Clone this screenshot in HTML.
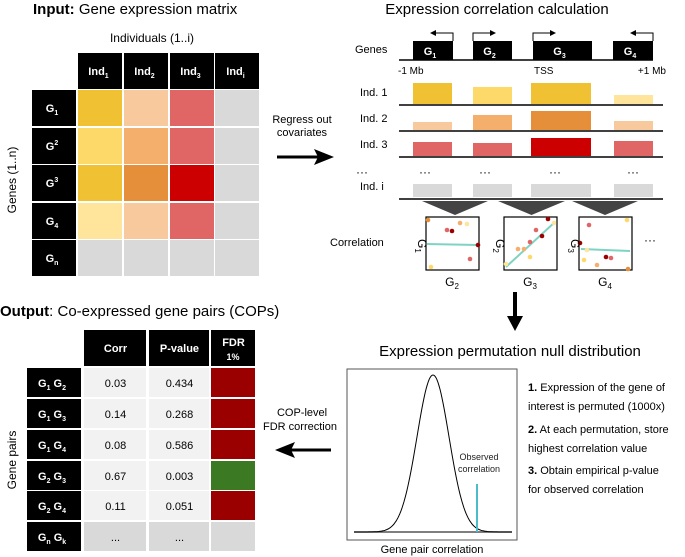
<!DOCTYPE html>
<html><head><meta charset="utf-8">
<style>
html,body{margin:0;padding:0;background:#fff;}
svg{display:block;font-family:"Liberation Sans",sans-serif;}
</style></head>
<body>
<svg width="685" height="557" viewBox="0 0 685 557" xmlns="http://www.w3.org/2000/svg">
<defs>
<marker id="ah" markerWidth="6" markerHeight="6" refX="5" refY="3" orient="auto"><path d="M0,0 L6,3 L0,6 z" fill="#000"/></marker>
</defs>
<text x="33" y="14" font-size="15"><tspan font-weight="bold">Input:</tspan> Gene expression matrix</text>
<text x="152" y="42" font-size="12" text-anchor="middle">Individuals (1..i)</text>
<text transform="translate(16,180) rotate(-90)" font-size="12" text-anchor="middle">Genes (1..n)</text>
<g id="matrix"></g>

<text x="302" y="123" font-size="11" text-anchor="middle">Regress out</text>
<text x="302" y="136" font-size="11" text-anchor="middle">covariates</text>
<path d="M277,157 L322,157" stroke="#000" stroke-width="3"/>
<path d="M334,157 L314,149 L318,157 L314,165 z" fill="#000"/>

<text x="497" y="14" font-size="15" text-anchor="middle">Expression correlation calculation</text>
<text x="355" y="53" font-size="11">Genes</text>
<g id="genes"></g>
<text x="398" y="74" font-size="10">-1 Mb</text>
<text x="534" y="74" font-size="10">TSS</text>
<text x="666" y="74" font-size="10" text-anchor="end">+1 Mb</text>
<g id="tracks"></g>
<g id="tri"></g>
<text x="330" y="246" font-size="11">Correlation</text>
<g id="scatters"></g>
<text x="644" y="244" font-size="12">···</text>
<path d="M515,292 L515,318" stroke="#000" stroke-width="4"/>
<path d="M507,316 L523,316 L515,331 z" fill="#000"/>

<text x="510" y="356" font-size="15" text-anchor="middle">Expression permutation null distribution</text>
<rect x="347" y="369" width="170" height="171" fill="#fff" stroke="#555" stroke-width="1"/>
<line x1="354" y1="532" x2="512" y2="532" stroke="#555" stroke-width="1.5"/>
<path id="curve" fill="none" stroke="#000" stroke-width="1"/>
<line x1="477" y1="484" x2="477" y2="532" stroke="#4bbcc8" stroke-width="2"/>
<text x="479" y="460" font-size="9" text-anchor="middle" fill="#222">Observed</text>
<text x="479" y="472" font-size="9" text-anchor="middle" fill="#222">correlation</text>
<text x="432" y="553" font-size="11" text-anchor="middle">Gene pair correlation</text>
<g font-size="11">
<text x="528" y="391"><tspan font-weight="bold">1.</tspan>  Expression of the gene of</text>
<text x="528" y="410">interest is permuted (1000x)</text>
<text x="528" y="433"><tspan font-weight="bold">2.</tspan> At each permutation, store</text>
<text x="528" y="452">highest correlation value</text>
<text x="528" y="474"><tspan font-weight="bold">3.</tspan> Obtain empirical p-value</text>
<text x="528" y="493">for observed correlation</text>
</g>

<text x="0" y="316" font-size="15"><tspan font-weight="bold">Output</tspan>: Co-expressed gene pairs (COPs)</text>
<text transform="translate(16,460) rotate(-90)" font-size="12" text-anchor="middle">Gene pairs</text>
<g id="outtable"></g>
<text x="302" y="416" font-size="11" text-anchor="middle">COP-level</text>
<text x="300" y="430" font-size="11" text-anchor="middle">FDR correction</text>
<path d="M331,450 L288,450" stroke="#000" stroke-width="3"/>
<path d="M275,450 L295,442 L291,450 L295,458 z" fill="#000"/>
</svg>
<script>
const NS="http://www.w3.org/2000/svg";
function el(p,t,a){const e=document.createElementNS(NS,t);for(const k in a)e.setAttribute(k,a[k]);p.appendChild(e);return e;}
const C={y1:"#f0c233",y2:"#fdd96a",yl:"#fee59b",p1:"#f8c99d",o1:"#f5af6c",o2:"#e68f3a",r1:"#e06666",r2:"#cc0000",g:"#d9d9d9",dr:"#9b0000",gr:"#3b7a23"};
const colHeads=[["Ind","1"],["Ind","2"],["Ind","3"],["Ind","i"]];
const rowHeads=[["G","1",0],["G","2",1],["G","3",1],["G","4",0],["G","n",0]];
const cellColors=[["y1","p1","r1","g"],["y2","o1","r1","g"],["y1","o2","r2","g"],["yl","p1","r1","g"],["g","g","g","g"]];
const m=document.getElementById("matrix");
const cx=[78,124,170,215],cw=45,ry=[90,128,165,203,240],rh=37;
colHeads.forEach((h,i)=>{const r=el(m,"rect",{x:cx[i],y:53,width:cw-1,height:36,fill:"#000"});


const t=el(m,"text",{x:cx[i]+cw/2-2,y:75,fill:"#fff","font-size":11,"font-weight":"bold","text-anchor":"middle"});t.innerHTML=h[0]+'<tspan font-size="7" dy="3">'+h[1]+'</tspan>';});
rowHeads.forEach((h,j)=>{const r=el(m,"rect",{x:32,y:ry[j],width:44,height:rh-1,fill:"#000"});


const t=el(m,"text",{x:52,y:ry[j]+22,fill:"#fff","font-size":11,"font-weight":"bold","text-anchor":"middle"});t.innerHTML=h[0]+'<tspan font-size="7" dy="'+(h[2]?-5:3)+'">'+h[1]+'</tspan>';
cellColors[j].forEach((c,i)=>{const r2=el(m,"rect",{x:cx[i],y:ry[j],width:cw-1,height:rh-1,fill:C[c]});

});});
const geneX=[[413,453],[473,512],[533,592],[613,653]];
const geneDir=[-1,1,1,-1];
const g=document.getElementById("genes");
el(g,"line",{x1:399,y1:60,x2:653,y2:60,stroke:"#000","stroke-width":1.5});
geneX.forEach((x,i)=>{const r=el(g,"rect",{x:x[0],y:41,width:x[1]-x[0],height:19,fill:"#000"});


const t=el(g,"text",{x:(x[0]+x[1])/2-3,y:55,fill:"#fff","font-size":11,"font-weight":"bold","text-anchor":"middle"});t.innerHTML='G<tspan font-size="7" dy="3">'+(i+1)+'</tspan>';
const sx=geneDir[i]<0?x[1]:x[0];el(g,"path",{d:`M${sx},41 L${sx},33 L${sx+geneDir[i]*22},33`,stroke:"#000",fill:"none","stroke-width":1,"marker-end":"url(#ah)"});});
const trackLabels=["Ind. 1","Ind. 2","Ind. 3","Ind. i"];
const trackBase=[104,130,156,198];
const barHeights=[[21,17,21,9],[8,15,19,9],[14,13,18,15],[13,13,13,13]];
const barColors=[["y1","y2","y1","yl"],["p1","o1","o2","p1"],["r1","r1","r2","r1"],["g","g","g","g"]];
const tr=document.getElementById("tracks");
const bx=[[413,452],[473,512],[531,591],[614,653]];
trackLabels.forEach((l,j)=>{const t=el(tr,"text",{x:360,y:trackBase[j]-8,"font-size":11});t.textContent=l;
el(tr,"line",{x1:399,y1:trackBase[j]+1,x2:663,y2:trackBase[j]+1,stroke:"#000","stroke-width":1.5});
barHeights[j].forEach((h,i)=>{const b=el(tr,"rect",{x:bx[i][0],y:trackBase[j]-h-(j==3?1:0),width:bx[i][1]-bx[i][0],height:h,fill:C[barColors[j][i]]});

});});
[362,425,485,555,633].forEach((x)=>{const t=el(tr,"text",{x:x,y:176,"font-size":12,"text-anchor":"middle"});t.textContent="···";});
const tri=document.getElementById("tri");
[[422,488],[498,565],[572,638]].forEach(a=>{const p=el(tri,"path",{d:`M${a[0]},201 L${a[1]},201 L${(a[0]+a[1])/2},215 z`,fill:"#444"});

});
const boxes=[426,504,579];
const scatterX=[[2,34,21,26,41,52,44,5],[44,50,32,38,26,14,20,26,2],[10,48,1,8,5,18,27,32,49]];
const scatterY=[[3,6,13,14,7,28,42,50],[2,6,13,19,25,32,32,40,47],[8,3,26,33,43,48,40,41,52]];
const scatterC=[["o2","o1","r1","dr","yl","dr","r1","y2"],["dr","yl","r1","dr","r1","o1","o1","y2","yl"],["r1","y2","dr","yl","y2","o1","dr","r1","o2"]];
const fitLines=[[1,27,52,28],[2,50,51,5],[2,32,51,34]];
const yLab=[1,2,3],xLab=[2,3,4];
const sc=document.getElementById("scatters");
boxes.forEach((x0,k)=>{const y0=217;
const r=el(sc,"rect",{x:x0,y:y0,width:53,height:53,fill:"#fff",stroke:"#000","stroke-width":1.2});


const f=fitLines[k];el(sc,"line",{x1:x0+f[0],y1:y0+f[1],x2:x0+f[2],y2:y0+f[3],stroke:"#7fd3c4","stroke-width":2});
scatterX[k].forEach((v,i)=>{const c=el(sc,"circle",{cx:x0+v,cy:y0+scatterY[k][i],r:2.3,fill:C[scatterC[k][i]]});

});
const t=el(sc,"text",{x:x0+26,y:286,"font-size":12,"text-anchor":"middle"});t.innerHTML='G<tspan font-size="8" dy="3">'+xLab[k]+'</tspan>';
const t2=el(sc,"text",{transform:`translate(${x0-8},${y0+22}) rotate(90)`,"font-size":12,"text-anchor":"start"});t2.innerHTML='G<tspan font-size="8" dy="3">'+yLab[k]+'</tspan>';});
const mu=433,sig=16,peak=375,base=532;let d="";
for(let x=354;x<=512;x+=1){const y=base-(base-peak)*Math.exp(-((x-mu)**2)/(2*sig*sig));d+=(x==354?"M":"L")+x+","+y.toFixed(1)+" ";}
document.getElementById("curve").setAttribute("d",d);
const pairs=[["1","2"],["1","3"],["1","4"],["2","3"],["2","4"],["n","k"]];
const corr=["0.03","0.14","0.08","0.67","0.11","..."];
const pval=["0.434","0.268","0.586","0.003","0.051","..."];
const fdr=["dr","dr","dr","gr","dr","g"];
const ot=document.getElementById("outtable");
const ocx=[84,149,211],ocw=[63,61,45],ory=[368,399,430,461,491,522];
["Corr","P-value","FDR"].forEach((h,i)=>{el(ot,"rect",{x:ocx[i],y:330,width:ocw[i]-1,height:36,fill:"#000"});
const t=el(ot,"text",{x:ocx[i]+ocw[i]/2,y:i==2?346:352,fill:"#fff","font-size":11,"font-weight":"bold","text-anchor":"middle"});t.textContent=h;});
el(ot,"text",{x:233,y:360,fill:"#fff","font-size":9,"font-weight":"bold","text-anchor":"middle"}).textContent="1%";
pairs.forEach((p,j)=>{const y=ory[j];
const rh2=el(ot,"rect",{x:27,y:y,width:54,height:29,fill:"#000"});


const t=el(ot,"text",{x:52,y:y+19,fill:"#fff","font-size":11,"font-weight":"bold","text-anchor":"middle"});
t.innerHTML='G<tspan font-size="7" dy="3">'+p[0]+'</tspan><tspan dy="-3"> G</tspan><tspan font-size="7" dy="3">'+p[1]+'</tspan>';
const bg=j==5?"#d9d9d9":"#f2f2f2";
[corr[j],pval[j]].forEach((v,i)=>{el(ot,"rect",{x:ocx[i],y:y,width:ocw[i]-1,height:29,fill:bg});
const tt=el(ot,"text",{x:ocx[i]+ocw[i]/2,y:y+19,"font-size":11,"text-anchor":"middle"});tt.textContent=v;});
const fr=el(ot,"rect",{x:ocx[2],y:y,width:ocw[2]-1,height:29,fill:C[fdr[j]]});

});
</script>
</body></html>
